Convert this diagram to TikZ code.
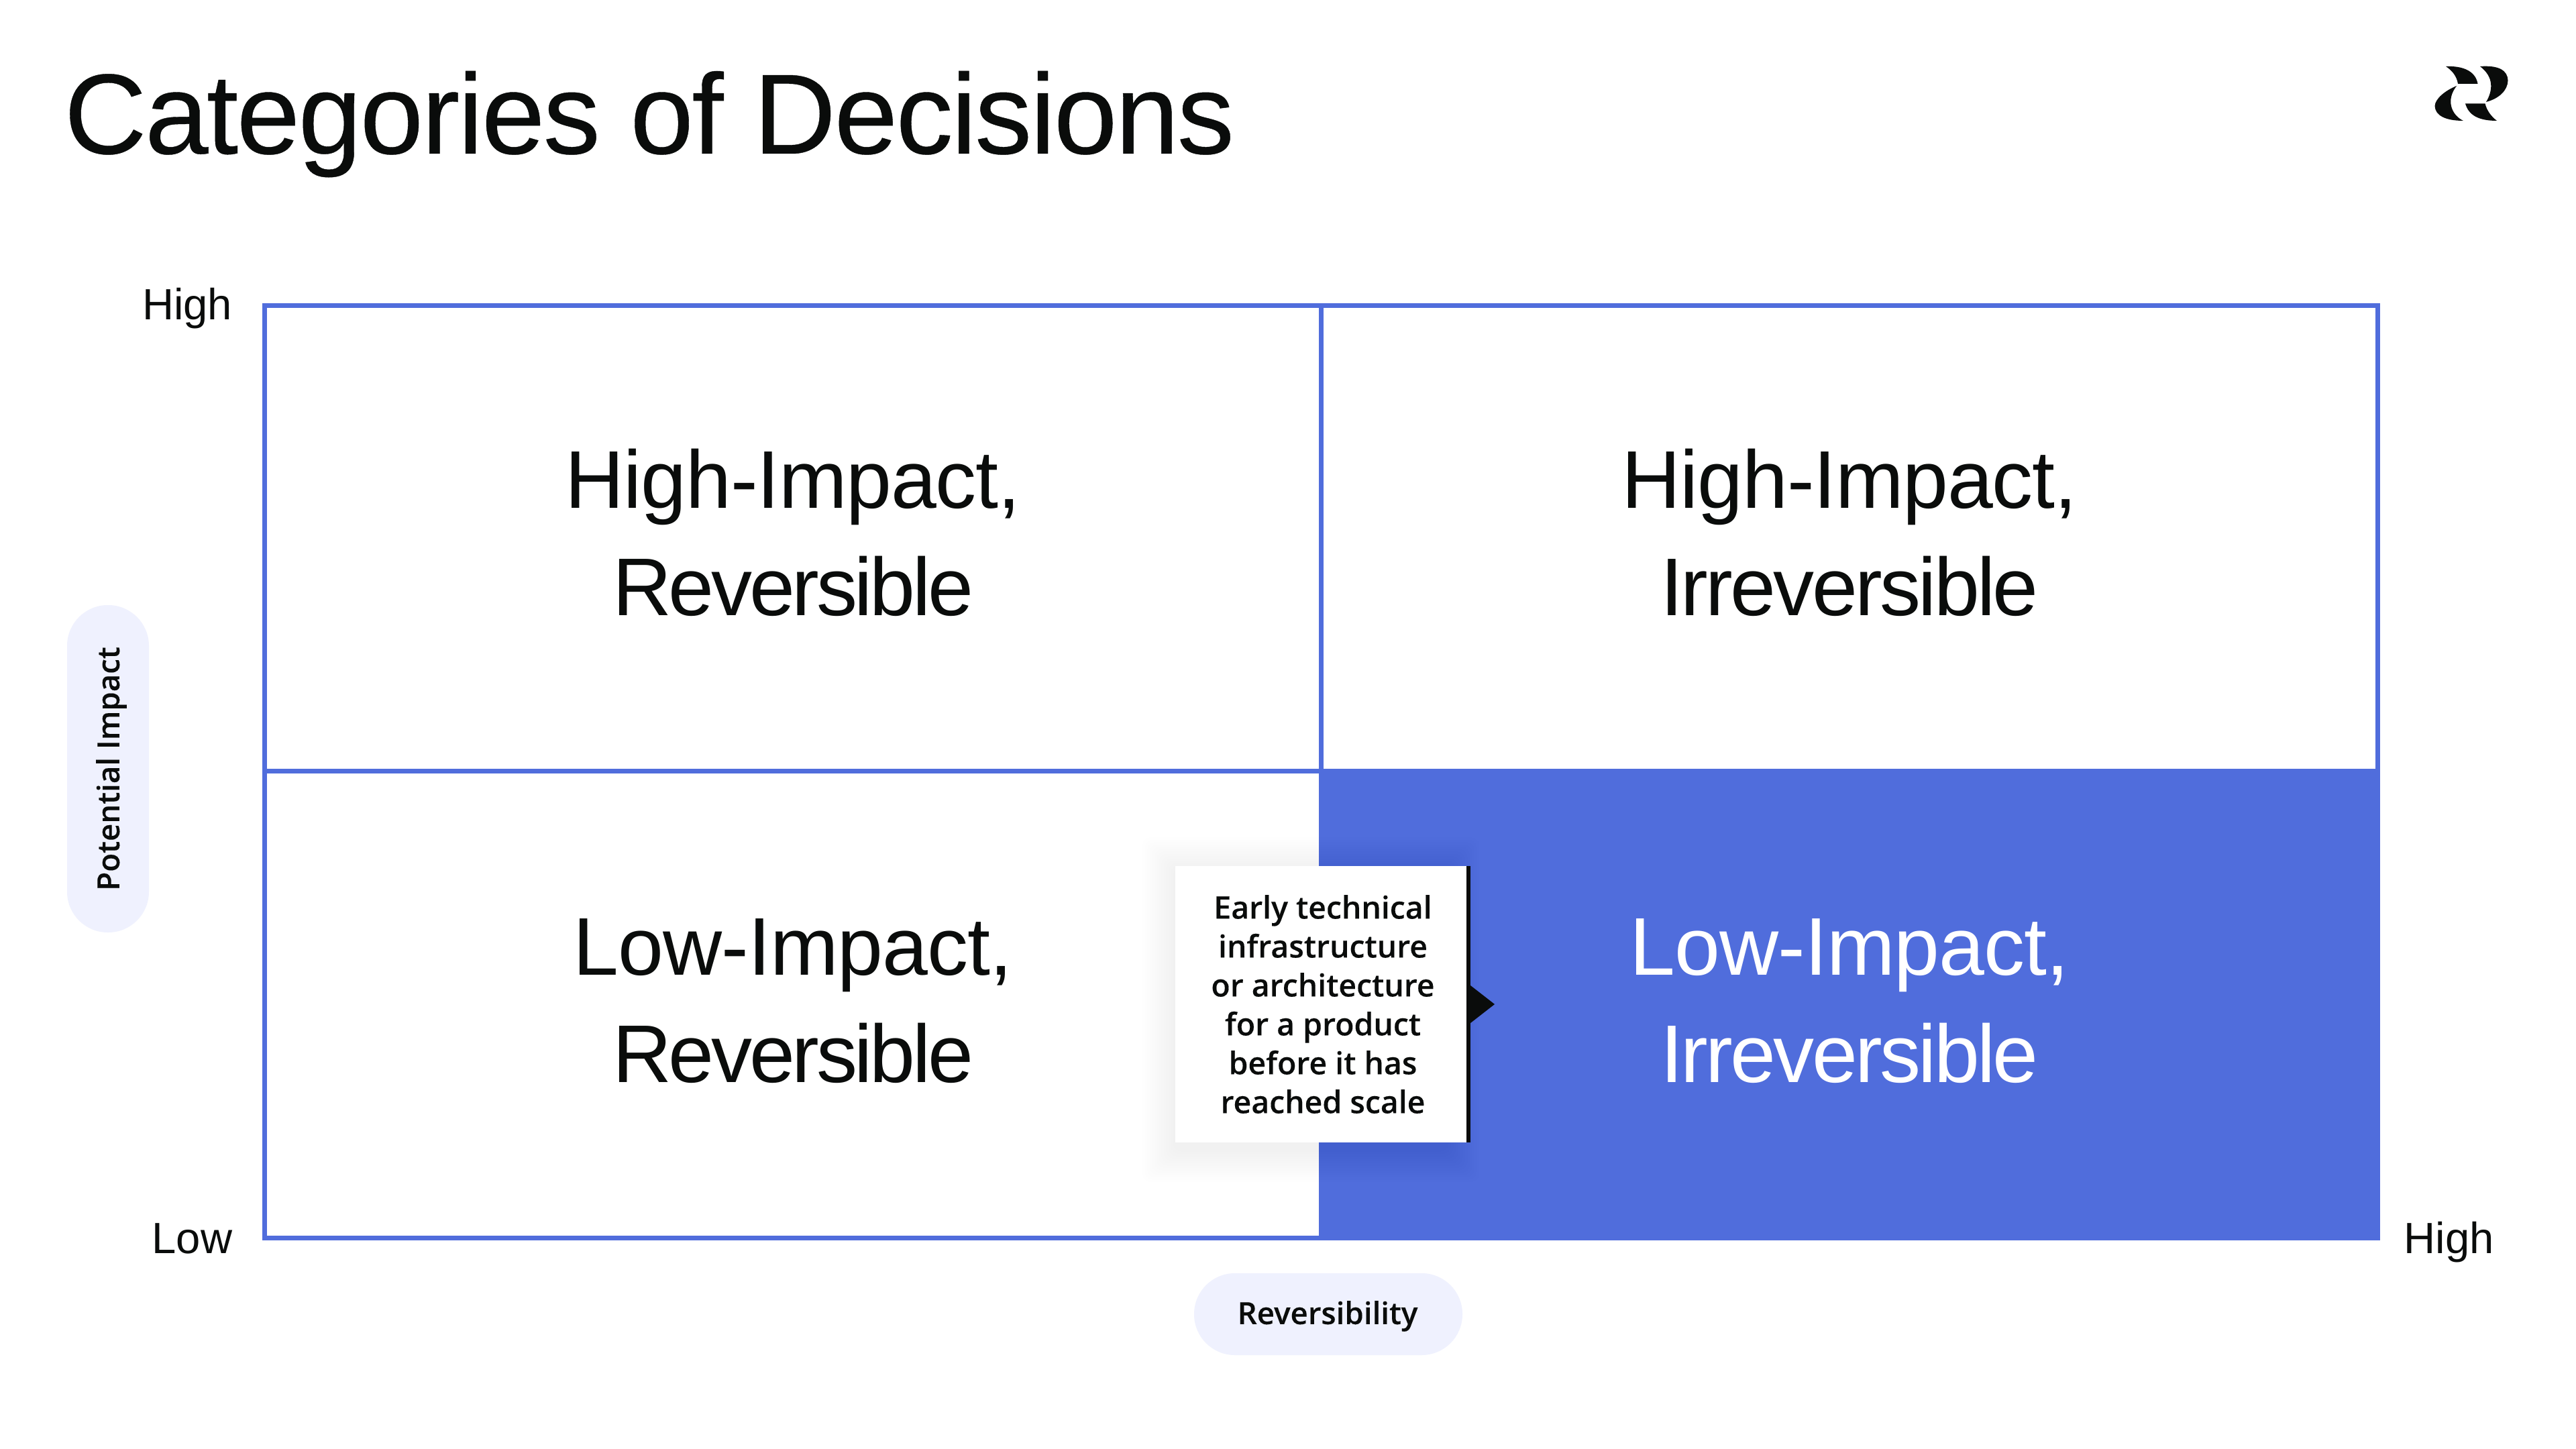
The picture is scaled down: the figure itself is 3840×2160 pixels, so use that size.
\documentclass[tikz,border=0pt]{standalone}
\usepackage{fontspec}
\setmainfont{Open Sans}
\newfontfamily\headfont{Liberation Sans}
\newfontfamily\calloutfont{Open Sans}[UprightFont={* Semibold},FakeBold=0.15]
\newcommand{\tight}[1]{\addfontfeature{LetterSpace=#1}}
\definecolor{brand}{HTML}{506DDC}
\definecolor{ink}{HTML}{0A0C0B}
\definecolor{pill}{HTML}{EFF1FE}
\tikzset{
  x=0.25pt,y=-0.25pt,
  gridline/.style={draw=brand,line width=1.75pt},
  quad/.style={align=center,font=\headfont\fontsize{30.5}{40}\selectfont,text=ink,inner sep=0pt},
  axis/.style={font=\headfont\fontsize{16.3}{19}\selectfont,text=ink,inner sep=0pt},
  pilltext/.style={font=\calloutfont\fontsize{11.4}{14}\selectfont,text=ink,inner sep=0pt},
}
\begin{document}
\begin{tikzpicture}
\useasboundingbox (0,0) rectangle (3840,2160);
\fill[white] (0,0) rectangle (3840,2160);
% title
\node[anchor=base west,inner sep=0pt,font=\headfont\fontsize{42.5}{50}\selectfont,text=ink] (title) at (95,229) {\addfontfeature{LetterSpace=-1.5,FakeBold=0.25}Categories of Decisions};
% logo
\fill[ink] (3646,99) .. controls (3670,98) and (3690,105) .. (3693.5,125) -- (3664,125) .. controls (3662,113) and (3655,105) .. (3646,99) -- cycle;
\fill[ink] (3697,99) .. controls (3725,97) and (3738,105) .. (3738.5,120) .. controls (3738,135) and (3725,147) .. (3706,152) .. controls (3716,135) and (3718,115) .. (3697,99) -- cycle;
\fill[ink] (3662,128) .. controls (3645,135) and (3630,147) .. (3629.5,158) .. controls (3630,172) and (3645,180) .. (3672,180) .. controls (3655,172) and (3645,150) .. (3662,128) -- cycle;
\fill[ink] (3675,154.5) -- (3704.5,154.5) .. controls (3707,165) and (3714,174) .. (3722,180) .. controls (3695,180) and (3680,172) .. (3675,154.5) -- cycle;
% quadrants
\fill[brand] (1966,1146) rectangle (3547,1848);
\coordinate (tl) at (394,456);
\coordinate (tr) at (3544,456);
\coordinate (bl) at (394,1845);
\coordinate (br) at (3544,1845);
\coordinate (mt) at (1969,456);
\coordinate (mb) at (1969,1149);
\coordinate (ml) at (394,1149);
\coordinate (mr) at (3544,1149);
\draw[gridline] (tl) -- (tr) -- (br) -- (bl) -- cycle;
\draw[gridline] (mt) -- (mb) (ml) -- (mr);
\node[quad] (q1) at (1182,794) {\tight{-1}High-Impact,\\\tight{-3.5}Reversible};
\node[quad] (q2) at (2757,794) {\tight{-1}High-Impact,\\\tight{-3}Irreversible};
\node[quad] (q3) at (1182,1492) {\tight{-0.8}Low-Impact,\\\tight{-3.5}Reversible};
\node[quad,text=white] (q4) at (2757,1492) {\tight{-0.8}Low-Impact,\\\tight{-3}Irreversible};
% axes labels
\node[axis,anchor=base east] (yhigh) at (347,477) {High};
\node[axis,anchor=base east] (ylow) at (347,1868) {Low};
\node[axis,anchor=base west] (xhigh) at (3583,1868) {High};
% pills
\fill[pill,rounded corners=15.2pt] (100,902) rectangle (222,1390);
\fill[pill,rounded corners=15.2pt] (1780,1898) rectangle (2180,2020);
\node[pilltext,rotate=90] (ylabel) at (166,1146) {Potential Impact};
\node[pilltext] (xlabel) at (1979,1962) {Reversibility};
% callout shadow
\foreach \i in {1,...,14}{
  \fill[black,opacity=0.005,rounded corners=3pt] ({1752-3.5*\i},{1291-3.5*\i+6}) rectangle ({2186+3.5*\i-30},{1703+3.5*\i+10});
}
% callout
\fill[ink] (2186,1291) rectangle (2192,1703);
\fill[ink] (2192,1469) -- (2228,1497) -- (2192,1525) -- cycle;
\node[fill=white,minimum width=108.5pt,minimum height=103pt,inner sep=0pt,align=center,font=\calloutfont\fontsize{11.6}{14.5}\selectfont,text=ink] (note) at (1969,1497) {\kern1.5pt Early technical\\\kern1.5pt infrastructure\\\kern1.5pt or architecture\\\kern1.5pt for a product\\\kern1.5pt before it has\\\kern1.5pt reached scale};
\end{tikzpicture}
\end{document}
